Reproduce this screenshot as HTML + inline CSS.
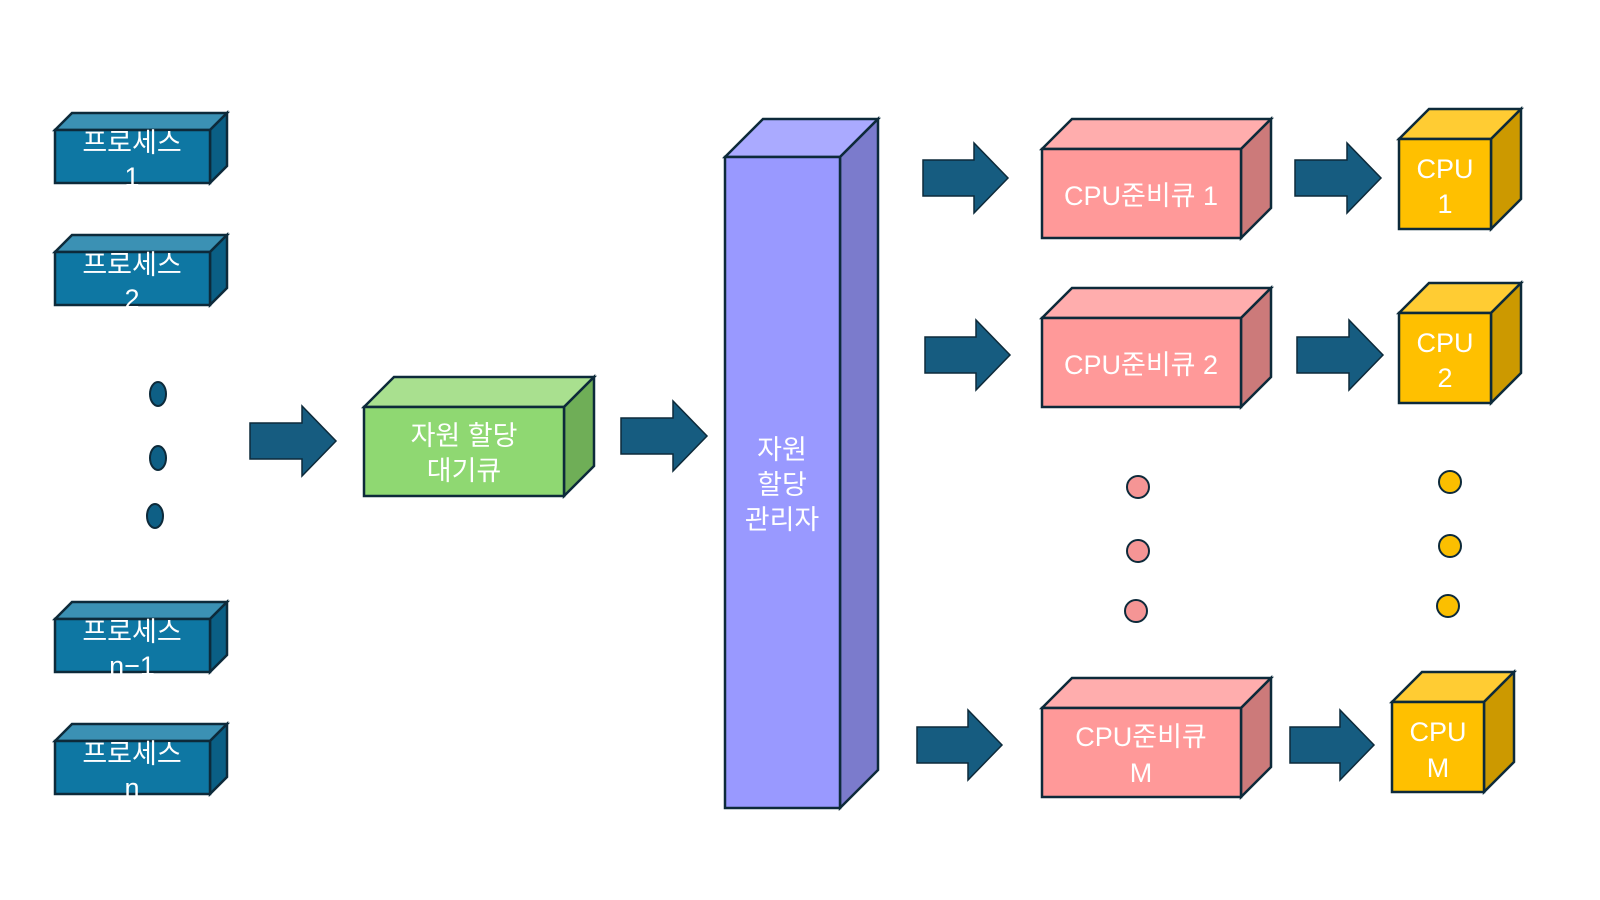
<!DOCTYPE html>
<html><head><meta charset="utf-8"><style>
html,body{margin:0;padding:0;background:#fff;width:1600px;height:900px;overflow:hidden}
svg text{font-family:"Liberation Sans","Noto Sans CJK KR","NanumGothic",sans-serif;fill:#fff;text-anchor:middle}
</style></head><body>
<svg width="1600" height="900" viewBox="0 0 1600 900" xmlns="http://www.w3.org/2000/svg">
<g stroke="#0d2a3a" stroke-width="2.5" stroke-linejoin="miter">
<!-- process boxes -->
<g id="p">
<polygon points="55,130 72,113 227,113 210,130" fill="#3b91b4"/>
<polygon points="210,130 227,113 227,166 210,183" fill="#0a5f85"/>
<rect x="55" y="130" width="155" height="53" fill="#0e77a3"/>
</g>
<polygon points="55,252 72,235 227,235 210,252" fill="#3b91b4"/>
<polygon points="210,252 227,235 227,288 210,305" fill="#0a5f85"/>
<rect x="55" y="252" width="155" height="53" fill="#0e77a3"/>
<polygon points="55,619 72,602 227,602 210,619" fill="#3b91b4"/>
<polygon points="210,619 227,602 227,655 210,672" fill="#0a5f85"/>
<rect x="55" y="619" width="155" height="53" fill="#0e77a3"/>
<polygon points="55,741 72,724 227,724 210,741" fill="#3b91b4"/>
<polygon points="210,741 227,724 227,777 210,794" fill="#0a5f85"/>
<rect x="55" y="741" width="155" height="53" fill="#0e77a3"/>
<!-- green -->
<polygon points="364,407 394,377 594,377 564,407" fill="#a9e08f"/>
<polygon points="564,407 594,377 594,466 564,496" fill="#6fae57"/>
<rect x="364" y="407" width="200" height="89" fill="#8fd872"/>
<!-- purple -->
<polygon points="725,157 763,119 878,119 840,157" fill="#aaaaff"/>
<polygon points="840,157 878,119 878,770 840,808" fill="#7b7bcc"/>
<rect x="725" y="157" width="115" height="651" fill="#9999ff"/>
<!-- pink -->
<polygon points="1042,149 1072,119 1271,119 1241,149" fill="#ffadad"/>
<polygon points="1241,149 1271,119 1271,208 1241,238" fill="#cc7a7a"/>
<rect x="1042" y="149" width="199" height="89" fill="#ff9999"/>
<polygon points="1042,318 1072,288 1271,288 1241,318" fill="#ffadad"/>
<polygon points="1241,318 1271,288 1271,377 1241,407" fill="#cc7a7a"/>
<rect x="1042" y="318" width="199" height="89" fill="#ff9999"/>
<polygon points="1042,708 1072,678 1271,678 1241,708" fill="#ffadad"/>
<polygon points="1241,708 1271,678 1271,767 1241,797" fill="#cc7a7a"/>
<rect x="1042" y="708" width="199" height="89" fill="#ff9999"/>
<!-- cpu -->
<polygon points="1399,139 1429,109 1521,109 1491,139" fill="#ffcc33"/>
<polygon points="1491,139 1521,109 1521,199 1491,229" fill="#cc9900"/>
<rect x="1399" y="139" width="92" height="90" fill="#ffc000"/>
<polygon points="1399,313 1429,283 1521,283 1491,313" fill="#ffcc33"/>
<polygon points="1491,313 1521,283 1521,373 1491,403" fill="#cc9900"/>
<rect x="1399" y="313" width="92" height="90" fill="#ffc000"/>
<polygon points="1392,702 1422,672 1514,672 1484,702" fill="#ffcc33"/>
<polygon points="1484,702 1514,672 1514,762 1484,792" fill="#cc9900"/>
<rect x="1392" y="702" width="92" height="90" fill="#ffc000"/>
</g>
<!-- arrows -->
<g fill="#165c80" stroke="#0d2a3a" stroke-width="1.5">
<polygon points="250,423 302,423 302,406 336,441 302,476 302,459 250,459"/>
<polygon points="621,418 673,418 673,401 707,436 673,471 673,454 621,454"/>
<polygon points="923,160 974,160 974,143 1008,178 974,213 974,196 923,196"/>
<polygon points="925,337 976,337 976,320 1010,355 976,390 976,373 925,373"/>
<polygon points="917,727 968,727 968,710 1002,745 968,780 968,763 917,763"/>
<polygon points="1295,160 1347,160 1347,143 1381,178 1347,213 1347,196 1295,196"/>
<polygon points="1297,337 1349,337 1349,320 1383,355 1349,390 1349,373 1297,373"/>
<polygon points="1290,727 1340,727 1340,710 1374,745 1340,780 1340,763 1290,763"/>
</g>
<!-- dots -->
<g stroke="#0d2a3a" stroke-width="2">
<ellipse cx="158" cy="394" rx="8" ry="12" fill="#0e5f85"/>
<ellipse cx="158" cy="458" rx="8" ry="12" fill="#0e5f85"/>
<ellipse cx="155" cy="516" rx="8" ry="12" fill="#0e5f85"/>
<circle cx="1138" cy="487" r="11" fill="#f59595"/>
<circle cx="1138" cy="551" r="11" fill="#f59595"/>
<circle cx="1136" cy="611" r="11" fill="#f59595"/>
<circle cx="1450" cy="482" r="11" fill="#fbbf00"/>
<circle cx="1450" cy="546" r="11" fill="#fbbf00"/>
<circle cx="1448" cy="606" r="11" fill="#fbbf00"/>
</g>
<!-- text -->
<g font-size="27">
<text x="132" y="152">프로세스</text><text x="132" y="186">1</text>
<text x="132" y="274">프로세스</text><text x="132" y="308">2</text>
<text x="132" y="641">프로세스</text><text x="132" y="675">n−1</text>
<text x="132" y="763">프로세스</text><text x="132" y="797">n</text>
<text x="464" y="445">자원 할당</text><text x="464" y="480">대기큐</text>
<text x="782" y="459">자원</text><text x="782" y="494">할당</text><text x="782" y="529">관리자</text>
<text x="1141" y="205">CPU준비큐 1</text>
<text x="1141" y="374">CPU준비큐 2</text>
<text x="1141" y="746">CPU준비큐</text><text x="1141" y="782">M</text>
<text x="1445" y="178">CPU</text><text x="1445" y="213">1</text>
<text x="1445" y="352">CPU</text><text x="1445" y="387">2</text>
<text x="1438" y="741">CPU</text><text x="1438" y="777">M</text>
</g>
</svg>
</body></html>
